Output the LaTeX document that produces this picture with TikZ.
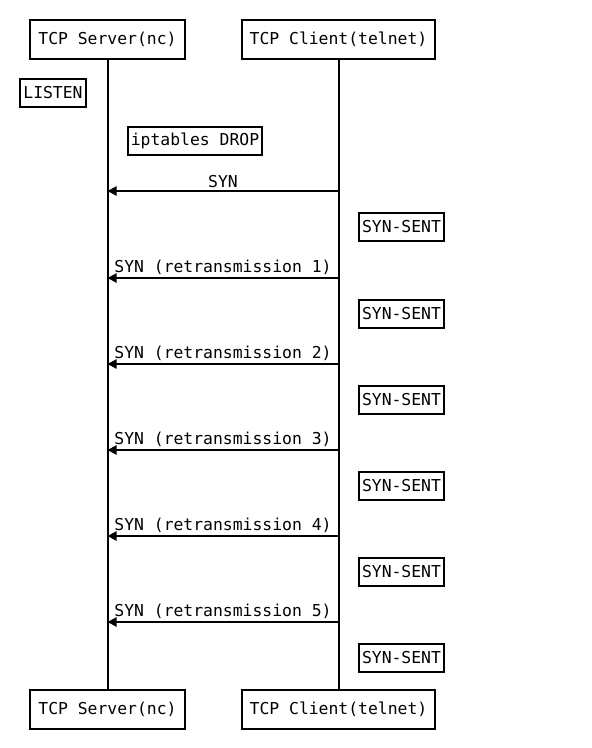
\documentclass[tikz,border=0pt]{standalone}
\usepackage{fontspec}
\setmonofont{DejaVu Sans Mono}
\usetikzlibrary{arrows.meta, positioning}
\tikzset{
  every picture/.style={font=\ttfamily\fontsize{16.4}{19}\selectfont, line width=2pt},
  box/.style={draw, line width=2pt, inner xsep=3pt, inner ysep=2pt, align=center},
  ent/.style={box, minimum height=39pt},
  state/.style={box, minimum height=28pt},
  msg/.style={-{Triangle[length=9pt, width=9pt]}, line width=2.2pt},
  lbl/.style={midway, above, inner sep=2pt},
}

\begin{document}
\begin{tikzpicture}[x=1pt, y=-1pt]
  \useasboundingbox (0,0) rectangle (592,748);
  % entities
  \node[ent, minimum width=155pt] (srvtop) at (107.5,39) {TCP Server(nc)};
  \node[ent, minimum width=193pt] (clitop) at (338.5,39) {TCP Client(telnet)};
  \node[ent, minimum width=155pt] (srvbot) at (107.5,709) {TCP Server(nc)};
  \node[ent, minimum width=193pt] (clibot) at (338.5,709) {TCP Client(telnet)};
  \draw (srvtop) -- (srvbot);
  \draw (clitop) -- (clibot);
  % states
  \node[state] (listen) at (53,92.5) {LISTEN};
  \node[state] (drop) at (195,140.5) {iptables DROP};
  % messages
  \foreach[count=\k] \y/\t in {191/SYN, 278/SYN (retransmission 1), 364/SYN (retransmission 2),
      450/SYN (retransmission 3), 536/SYN (retransmission 4), 622/SYN (retransmission 5)} {
    \coordinate (c\k) at (338.5,\y);
    \coordinate (s\k) at (107.5,\y);
    \draw[msg] (c\k) -- node[lbl] {\t} (s\k);
    \node[state] (sent\k) at (401.5,\y+35.5) {SYN-SENT};
  }
\end{tikzpicture}
\end{document}
